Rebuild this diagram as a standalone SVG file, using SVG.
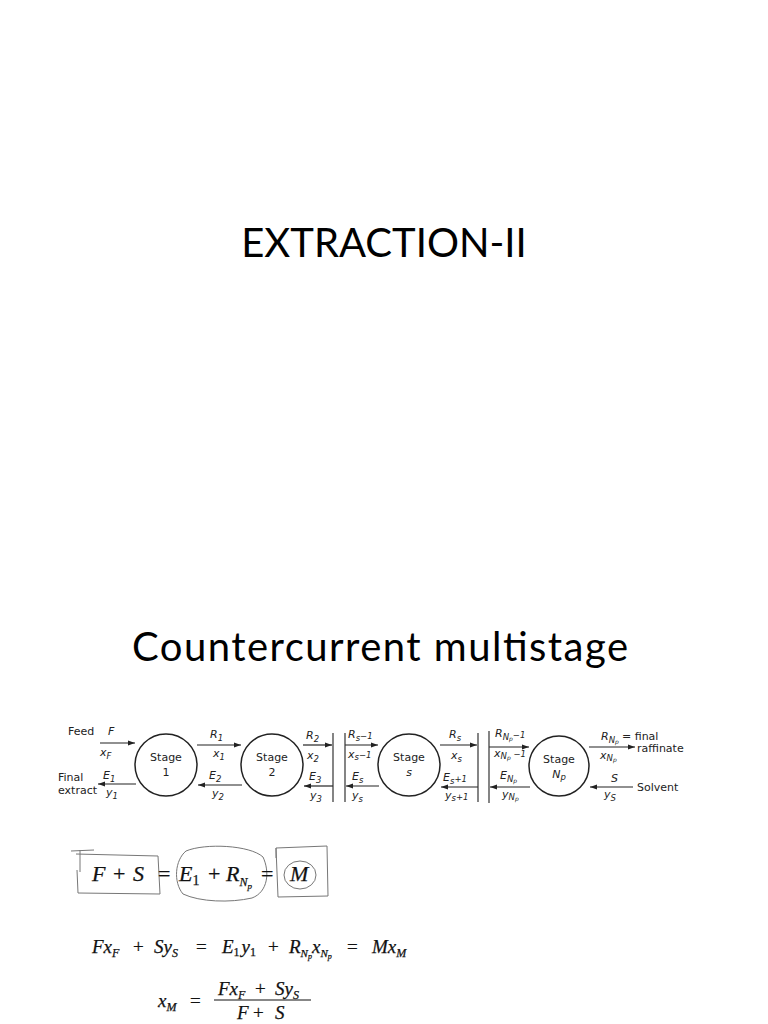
<svg xmlns="http://www.w3.org/2000/svg" width="768" height="1024" viewBox="0 0 768 1024">
<style>
.t{font-family:Lato,"Noto Sans",sans-serif;fill:#000}
.d{font-family:"DejaVu Sans","Liberation Sans",sans-serif;font-size:11px;fill:#222}
.v{font-style:italic}
.sb{font-size:8.5px}
.ln{stroke:#222;stroke-width:1.2;fill:none}
.bar{stroke:#333;stroke-width:1.2}
.st{fill:#fff;stroke:#222;stroke-width:1.5}
.eq{font-family:"Liberation Serif","Times New Roman",serif;fill:#111;stroke:#111;stroke-width:0.25}
.i{font-style:italic}
.hd{fill:none;stroke:#777;stroke-width:1}
</style>
<defs>
<marker id="ah" viewBox="0 0 10 10" refX="10" refY="5" markerWidth="6" markerHeight="6" orient="auto"><path d="M0,1.5 L10,5 L0,8.5 z" fill="#222"/></marker>
</defs>
<rect width="768" height="1024" fill="#fff"/>
<g id="title"><text class="t" x="384" y="257" font-size="40" text-anchor="middle">EXTRACTION-II</text></g>
<g id="subtitle"><text class="t" x="132" y="661" font-size="40" textLength="496" lengthAdjust="spacing">Countercurrent multistage</text></g>

<g id="connectors">
<line class="ln" x1="100" y1="743" x2="135" y2="743" marker-end="url(#ah)"/>
<line class="ln" x1="136" y1="784" x2="98" y2="784" marker-end="url(#ah)"/>
<line class="ln" x1="197" y1="745" x2="241" y2="745" marker-end="url(#ah)"/>
<line class="ln" x1="242" y1="785" x2="198" y2="785" marker-end="url(#ah)"/>
<line class="ln" x1="303" y1="745" x2="332" y2="745" marker-end="url(#ah)"/>
<line class="ln" x1="333" y1="786" x2="304" y2="786" marker-end="url(#ah)"/>
<line class="ln" x1="345" y1="745" x2="378" y2="745" marker-end="url(#ah)"/>
<line class="ln" x1="379" y1="786" x2="346" y2="786" marker-end="url(#ah)"/>
<line class="ln" x1="440" y1="745" x2="477" y2="745" marker-end="url(#ah)"/>
<line class="ln" x1="478" y1="787" x2="441" y2="787" marker-end="url(#ah)"/>
<line class="ln" x1="489" y1="747" x2="529" y2="747" marker-end="url(#ah)"/>
<line class="ln" x1="530" y1="787" x2="490" y2="787" marker-end="url(#ah)"/>
<line class="ln" x1="589" y1="747" x2="635" y2="747" marker-end="url(#ah)"/>
<line class="ln" x1="633" y1="787" x2="590" y2="787" marker-end="url(#ah)"/>
<line class="bar" x1="333" y1="733" x2="333" y2="802"/>
<line class="bar" x1="345" y1="733" x2="345" y2="802"/>
<line class="bar" x1="478" y1="733" x2="478" y2="802"/>
<line class="bar" x1="489" y1="731" x2="489" y2="803"/>
</g>

<g id="stage1"><circle class="st" cx="166" cy="765" r="31"/><text class="d" x="166" y="761" text-anchor="middle">Stage</text><text class="d" x="166" y="776" text-anchor="middle">1</text></g>
<g id="stage2"><circle class="st" cx="272" cy="765" r="31"/><text class="d" x="272" y="761" text-anchor="middle">Stage</text><text class="d" x="272" y="776" text-anchor="middle">2</text></g>
<g id="stages"><circle class="st" cx="409" cy="765" r="31"/><text class="d" x="409" y="761" text-anchor="middle">Stage</text><text class="d v" x="409" y="776" text-anchor="middle">s</text></g>
<g id="stageNp"><circle class="st" cx="559" cy="766" r="30"/><text class="d" x="559" y="763" text-anchor="middle">Stage</text><text class="d v" x="559" y="778" text-anchor="middle">N<tspan class="sb" dy="2">p</tspan></text></g>

<g id="labels">
<text class="d" x="68" y="735">Feed</text>
<text class="d v" x="108" y="735">F</text>
<text class="d v" x="100" y="756">x<tspan class="sb" dy="3">F</tspan></text>
<text class="d" x="58" y="781">Final</text>
<text class="d" x="58" y="794">extract</text>
<text class="d v" x="103" y="779">E<tspan class="sb" dy="3">1</tspan></text>
<text class="d v" x="106" y="796">y<tspan class="sb" dy="3">1</tspan></text>
<text class="d v" x="210" y="738">R<tspan class="sb" dy="3">1</tspan></text>
<text class="d v" x="213" y="757">x<tspan class="sb" dy="3">1</tspan></text>
<text class="d v" x="209" y="779">E<tspan class="sb" dy="3">2</tspan></text>
<text class="d v" x="212" y="797">y<tspan class="sb" dy="3">2</tspan></text>
<text class="d v" x="306" y="739">R<tspan class="sb" dy="3">2</tspan></text>
<text class="d v" x="307" y="759">x<tspan class="sb" dy="3">2</tspan></text>
<text class="d v" x="309" y="780">E<tspan class="sb" dy="3">3</tspan></text>
<text class="d v" x="310" y="799">y<tspan class="sb" dy="3">3</tspan></text>
<text class="d v" x="348" y="738">R<tspan class="sb" dy="3">s</tspan><tspan class="sb" dy="-2">−1</tspan></text>
<text class="d v" x="348" y="758">x<tspan class="sb" dy="2">s</tspan><tspan class="sb" dy="-2">−1</tspan></text>
<text class="d v" x="352" y="780">E<tspan class="sb" dy="3">s</tspan></text>
<text class="d v" x="352" y="799">y<tspan class="sb" dy="3">s</tspan></text>
<text class="d v" x="449" y="738">R<tspan class="sb" dy="3">s</tspan></text>
<text class="d v" x="451" y="759">x<tspan class="sb" dy="3">s</tspan></text>
<text class="d v" x="443" y="781">E<tspan class="sb" dy="3">s</tspan><tspan class="sb" dy="-2">+1</tspan></text>
<text class="d v" x="445" y="799">y<tspan class="sb" dy="2">s</tspan><tspan class="sb" dy="-1">+1</tspan></text>
<text class="d v" x="495" y="737">R<tspan class="sb" dy="3">N</tspan><tspan font-size="6" dy="1">p</tspan><tspan class="sb" dy="-3">−1</tspan></text>
<text class="d v" x="494" y="757">x<tspan class="sb" dy="2">N</tspan><tspan font-size="6" dy="1">p</tspan><tspan class="sb" dy="-3"> −1</tspan></text>
<text class="d v" x="500" y="779">E<tspan class="sb" dy="3">N</tspan><tspan font-size="6" dy="1">p</tspan></text>
<text class="d v" x="502" y="798">y<tspan class="sb" dy="2">N</tspan><tspan font-size="6" dy="1">p</tspan></text>
<text class="d v" x="601" y="740">R<tspan class="sb" dy="3">N</tspan><tspan font-size="6" dy="1">p</tspan></text>
<text class="d" x="622" y="740">= final</text>
<text class="d" x="637" y="752">raffinate</text>
<text class="d v" x="600" y="759">x<tspan class="sb" dy="2">N</tspan><tspan font-size="6" dy="1">p</tspan></text>
<text class="d v" x="611" y="782">S</text>
<text class="d" x="637" y="791">Solvent</text>
<text class="d v" x="604" y="798">y<tspan class="sb" dy="3">S</tspan></text>
</g>

<g id="eq1">
<path class="hd" d="M71,851 L94,850 M80,850 L80,872 M76,854 L158,856 L160,894 L78,893 L77,870"/>
<path class="hd" d="M186,851 C205,843 250,845 263,857 C270,872 268,892 252,898 C230,903 200,902 183,894 C173,882 175,860 186,851 Z"/>
<path class="hd" d="M276,848 L327,846 L328,896 L278,897 Z M276,848 L276,858"/>
<ellipse class="hd" cx="300" cy="875" rx="16" ry="14"/>
<g class="eq" font-size="22">
<text class="i" x="92" y="881">F</text>
<text x="113" y="881">+</text>
<text class="i" x="133" y="881">S</text>
<text x="158" y="881">=</text>
<text class="i" x="179" y="881">E<tspan font-style="normal" font-size="14" dy="4">1</tspan></text>
<text x="208" y="881">+</text>
<text class="i" x="226" y="881">R<tspan font-size="12" dy="5">N</tspan><tspan font-size="9" dy="3">p</tspan></text>
<text x="261" y="881">=</text>
<text class="i" x="290" y="881">M</text>
</g>
</g>

<g id="eq2" class="eq" font-size="19">
<text class="i" x="92" y="953">F<tspan>x</tspan><tspan font-size="12" dy="4">F</tspan></text>
<text x="133" y="953">+</text>
<text class="i" x="154" y="953">S<tspan>y</tspan><tspan font-size="12" dy="4">S</tspan></text>
<text x="196" y="953">=</text>
<text class="i" x="222" y="953">E<tspan font-style="normal" font-size="12" dy="3">1</tspan><tspan dy="-3" dx="2">y</tspan><tspan font-style="normal" font-size="12" dy="3">1</tspan></text>
<text x="268" y="953">+</text>
<text class="i" x="289" y="953">R<tspan font-size="11" dy="4">N</tspan><tspan font-size="8" dy="2">p</tspan><tspan font-size="19" dy="-6">x</tspan><tspan font-size="11" dy="4">N</tspan><tspan font-size="8" dy="2">p</tspan></text>
<text x="347" y="953">=</text>
<text class="i" x="372" y="953">M<tspan>x</tspan><tspan font-size="12" dy="4">M</tspan></text>
<text class="i" x="158" y="1007">x<tspan font-size="12" dy="4">M</tspan></text>
<text x="190" y="1007">=</text>
<text class="i" x="218" y="995">F<tspan>x</tspan><tspan font-size="12" dy="4">F</tspan></text>
<text x="255" y="995">+</text>
<text class="i" x="275" y="995">S<tspan>y</tspan><tspan font-size="12" dy="4">S</tspan></text>
<line x1="214" y1="1000" x2="311" y2="1000" stroke="#111" stroke-width="1.2"/>
<text class="i" x="237" y="1019">F</text>
<text x="253" y="1019">+</text>
<text class="i" x="275" y="1019">S</text>
</g>
</svg>
